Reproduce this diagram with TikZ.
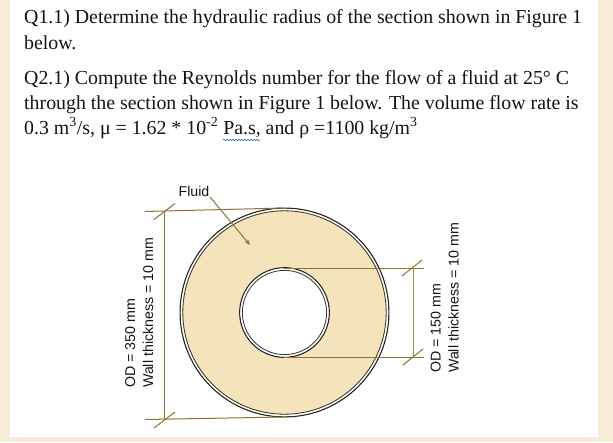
\documentclass[tikz,border=0pt]{standalone}
\usepackage{fontspec}
\setmainfont{Liberation Serif}
\setsansfont{Liberation Sans}
\usetikzlibrary{arrows.meta,decorations.pathmorphing}
\definecolor{pagecream}{HTML}{F6ECD8}
\definecolor{fluidfill}{HTML}{F5E3BB}
\definecolor{dimbrown}{HTML}{8F7330}
\definecolor{inktext}{HTML}{141414}
\definecolor{wavy}{HTML}{3355AA}
\tikzset{
  x=1pt,y=-1pt,
  qline/.style={anchor=base west,inner sep=0pt,text=inktext,font=\fontsize{19.85}{22}\selectfont},
  dimtext/.style={anchor=base west,inner sep=0pt,rotate=90,text=inktext,font=\sffamily\fontsize{14.2}{16}\selectfont},
  dimline/.style={draw=dimbrown,line width=1pt},
  wallblack/.style={draw=black!85,line width=1.2pt},
  wallwhite/.style={draw=white,line width=1.3pt},
}
\begin{document}
\begin{tikzpicture}
\useasboundingbox (0,0) rectangle (613,442);
\fill[pagecream] (0,0) rectangle (613,442);
\fill[white] (10,0) rectangle (598,437);
% question text
\node[qline] (l1) at (24,23) {Q1.1) Determine the hydraulic radius of the section shown in Figure 1};
\node[qline] (l2) at (24,49) {below.};
\node[qline] (l3) at (24,84) {Q2.1) Compute the Reynolds number for the flow of a fluid at 25° C};
\node[qline] (l4) at (24,109) {through the section shown in Figure 1 below. The volume flow rate is};
\node[qline] (l5) at (24,134) {0.3 m\textsuperscript{3}/s, μ = 1.62 * 10\textsuperscript{-2} Pa.s, and ρ =1100 kg/m\textsuperscript{3}};
\coordinate (w1) at (223,140);
\coordinate (w2) at (260,140);
\draw[wavy,line width=0.5pt,decorate,decoration={snake,amplitude=0.8pt,segment length=3pt}] (w1) -- (w2);
% annulus
\coordinate (c) at (284.5,312.5);
\fill[fluidfill] (c) circle[radius=104.5];
\draw[wallblack] (c) circle[radius=104.4];
\draw[wallwhite] (c) circle[radius=103];
\draw[draw=black!80,line width=0.8pt] (c) circle[radius=101.7];
\fill[white] (c) circle[radius=45];
\draw[wallblack] (c) circle[radius=44.8];
\draw[wallwhite] (c) circle[radius=43.4];
\draw[draw=black!80,line width=0.8pt] (c) circle[radius=42.1];
% outer dimension
\coordinate (oTs) at (145,211.5);
\coordinate (oTe) at (284,208);
\coordinate (oBs) at (145,419.5);
\coordinate (oBe) at (284,417);
\coordinate (oT) at (164,211);
\coordinate (oB) at (164,419);
\coordinate (tk1a) at (154,219.5);
\coordinate (tk1b) at (175,203.5);
\coordinate (tk2a) at (154,428);
\coordinate (tk2b) at (175,412);
\draw[dimline] (oTs) -- (oTe);
\draw[dimline] (oBs) -- (oBe);
\draw[dimline] (oT) -- (oB);
\draw[dimline] (tk1a) -- (tk1b);
\draw[dimline] (tk2a) -- (tk2b);
% inner dimension
\coordinate (iTs) at (284,268);
\coordinate (iTe) at (424,268);
\coordinate (iBs) at (284,357.5);
\coordinate (iBe) at (424,357.5);
\coordinate (iT) at (413,268);
\coordinate (iB) at (413,357.5);
\coordinate (tk3a) at (402,276);
\coordinate (tk3b) at (422,260);
\coordinate (tk4a) at (403,365);
\coordinate (tk4b) at (423,349);
\draw[dimline] (iTs) -- (iTe);
\draw[dimline] (iBs) -- (iBe);
\draw[dimline,draw=dimbrown!80] (iT) -- (iB);
\draw[dimline] (tk3a) -- (tk3b);
\draw[dimline] (tk4a) -- (tk4b);
% labels
\node[inner sep=0pt,text=inktext,font=\sffamily\fontsize{14.2}{16}\selectfont] (fluid) at (194,191) {Fluid};
\coordinate (fluidtip) at (250,245);
\coordinate (fluidtail) at (210,197);
\draw[dimline,-{Stealth[length=6pt,width=4.5pt]}] (fluidtail) -- (fluidtip);
\node[dimtext] (od1) at (135,388) {OD = 350 mm};
\node[dimtext] (wt1) at (153,388) {Wall thickness = 10 mm};
\node[dimtext] (od2) at (440.5,373) {OD = 150 mm};
\node[dimtext] (wt2) at (458.5,373) {Wall thickness = 10 mm};
\end{tikzpicture}
\end{document}
